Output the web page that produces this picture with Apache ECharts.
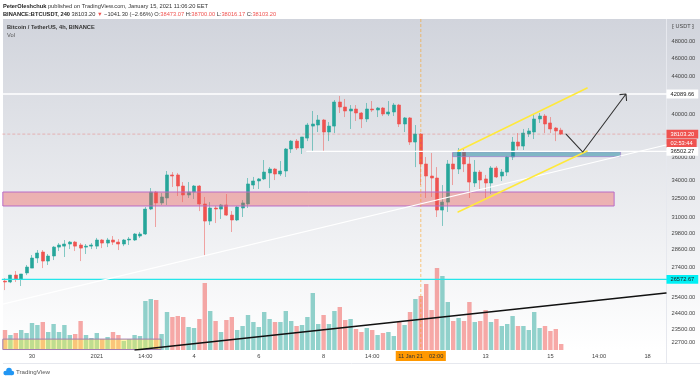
<!DOCTYPE html>
<html><head><meta charset="utf-8">
<style>html,body{margin:0;padding:0;background:#fff}#c{width:700px;height:380px}</style>
<script src="https://cdn.jsdelivr.net/npm/echarts@6/dist/echarts.min.js"></script>
</head><body><div id="c"></div>
<script>
const opens=[26460,26400,26860,26600,27000,27330,28020,28440,27810,28160,28790,28860,29010,29150,28940,28790,28860,28860,29300,29080,29300,29150,29010,29300,29300,29590,29740,31640,33000,32120,32520,34430,34430,33500,32760,33000,33500,32040,30710,31720,31640,31960,31170,30790,31720,32040,33580,33920,34090,34600,34940,34510,34770,36720,37450,36810,37730,38870,38970,39460,38300,38870,41260,40750,40350,40550,40150,39560,40550,40450,40650,40050,40250,40950,39070,39660,37360,38110,35380,34340,34170,31560,32190,35380,34940,36450,35380,33750,34680,34090,33750,35030,34340,34680,36000,37360,36990,38110,38300,39560,39850,39170,38680,38473.07];
const closes=[26400,26860,26600,26930,27400,28020,28370,27810,28160,28790,28940,29010,29150,28860,28720,28860,28940,29300,29080,29300,29150,29010,29300,29370,29740,29740,31640,33000,32120,32600,34430,34340,33500,32760,33000,33500,32040,30710,31720,31640,31960,31170,30790,31800,32120,33670,33920,34090,34680,34940,34510,34770,36720,37450,36810,37830,38970,39070,39460,38300,38870,41260,40750,40350,40550,40150,39560,40550,40450,40650,40050,40250,40950,39070,39660,37360,38110,35380,34340,34170,31560,32190,35380,34940,36450,35380,33830,34680,34000,33750,35030,34260,34680,36000,37360,36990,38200,38400,39560,39850,39070,38590,38400,38103.2];
const lows=[25880,26330,26400,26140,26860,27330,27670,27330,27540,27880,28510,28090,28650,28510,27810,28300,28650,28650,28720,28790,28940,28580,28860,28940,29230,29450,29670,31560,30260,31960,31960,33420,32680,32190,32520,32440,31480,28160,30410,30560,30870,31100,29890,30710,31020,31720,33250,33250,34000,33330,34000,34340,34260,36360,36630,36270,37450,36540,38300,36540,37450,38200,40150,39750,38590,39360,38680,39260,40250,39750,39850,39850,39850,38780,38300,37090,35110,33580,32520,32600,31020,30340,31410,33580,34510,34680,32520,33420,33250,32520,32840,34170,33920,34340,35730,36630,36630,37830,37640,39170,38200,38200,37450,38016.17];
const highs=[26660,26860,27130,26930,27540,28230,28580,28580,28300,28860,29080,29300,29230,29230,29080,29010,29080,29450,29370,29450,29590,29370,29370,29520,29810,29890,31800,33330,33090,32920,34770,34680,34600,33830,33830,33580,33580,32600,32190,31880,32040,32840,31480,31880,32350,34170,34260,34170,35730,35110,35030,35640,36810,37550,37640,37830,39170,40350,39950,39560,39260,41460,41880,41570,40950,40950,40250,41160,41360,40750,40750,41360,41160,41060,39750,39750,38970,38200,36000,36360,35110,33580,35730,36360,36810,36810,36000,35730,34850,34430,35200,35200,34940,36090,37830,38200,38590,38680,40050,40150,40050,39750,38780,38700];
const volumes=[2000,1500,1700,2000,1700,2700,2500,2800,1800,2600,1800,2500,1500,1600,2900,1500,1200,1700,1100,1300,1800,1500,900,1100,1500,1400,4900,5100,5000,1600,3800,3300,3400,3300,2300,2200,3100,6700,3900,2900,1800,3000,3300,2000,2400,3500,2800,2300,3800,3100,2800,2800,3900,2900,2400,2500,3300,5700,2600,3500,2600,3900,4300,3000,3100,2100,1800,2200,2000,1500,1700,1800,1400,2800,2500,3800,5100,5400,6600,4000,8200,7400,4800,2900,3200,2900,4800,2800,2900,4000,2800,3100,2400,2600,3400,2400,2400,2000,3800,2200,2400,1900,2100,600];
const tickBars=[5,17,26,35,47,59,68,77,89,101,110,119];
const tickTexts=['30','2021','14:00','4','6','8','14:00','11 Jan 21    02:00','13','15','14:00','18'];
const priceTicks=[48000,46000,44000,40000,36000,34000,32500,31000,29800,28600,27400,25400,24400,23500,22700];
const resistance=42089.66, support=36502.27, lowLevel=26572.67, lastPrice=38103.20, countdownAt=37230;
const trendWhite=[[-0.4,24990],[122.4,37085]];
const channelUpper=[[83.9,36537],[107.8,42720]];
const channelLower=[[83.9,31405],[107.8,36537]];
const trendBlack=[[24.1,22300],[122.4,25690]];
const projection=[[103.9,38110],[107,36446],[115,42090],[113.8,42020],[115,42090],[115.1,41410]];
const zoneMain=[-0.4,112.8,33003,31880];
const zoneBlue=[82.9,114,36470,36030];
const zoneVol=[-0.4,28.9,22915,22330];
const cursorBar=77;

const UP='#26a69a', DOWN='#ef5350', FONT='"Liberation Sans",Arial,sans-serif', FS=5.7;
const slots=123, XMIN=-0.5, XMAX=122.5, YMIN=22304, YMAX=50693;
const cats=Array.from({length:slots},(_,i)=>{const t=tickBars.indexOf(i);return t<0?'':tickTexts[t];});
const wick=opens.map((o,i)=>[o,closes[i],lows[i],highs[i]]);
const body=opens.map((o,i)=>[o,closes[i],Math.min(o,closes[i]),Math.max(o,closes[i])]);
const vols=volumes.map((v,i)=>({value:v,itemStyle:{color:closes[i]>=opens[i]?'rgba(38,166,154,.5)':'rgba(239,83,80,.5)'}}));
function seg(data,color,width,extra){return Object.assign({type:'line',xAxisIndex:1,yAxisIndex:0,data,symbol:'none',silent:true,animation:false,z:6,
  lineStyle:{color,width,cap:'round'}},extra||{});}
function zone(rect,fill,stroke,lw){return {type:'custom',xAxisIndex:1,yAxisIndex:0,z:5,silent:true,animation:false,clip:false,
  data:[rect],encode:{x:[0,1],y:[2,3]},
  renderItem(p,api){const a=api.coord([api.value(0),api.value(2)]),b=api.coord([api.value(1),api.value(3)]);
    return {type:'rect',shape:{x:a[0],y:a[1],width:b[0]-a[0],height:b[1]-a[1]},style:{fill,stroke,lineWidth:lw||1}};}};}
function tag(v,text,bg,col){return {yAxis:v,label:{formatter:text,color:col,backgroundColor:bg,padding:[1.4,4,1.4,4],distance:0,opacity:1},lineStyle:{color:'transparent'}};}
const ts=(size,weight,color,rich)=>({fontSize:size,fontFamily:FONT,fontWeight:weight,color,rich:rich||{}});
const option={
 animation:false,
 title:[
  {left:3,top:3,padding:0,textStyle:ts(FS,'normal','#333',{b:{fontWeight:'bold',fontSize:FS,fontFamily:FONT,color:'#222'}}),
    text:'{b|PeterOleshchuk} published on TradingView.com, January 15, 2021 11:06:20 EET'},
  {left:3,top:11,padding:0,textStyle:ts(FS,'normal','#333',{b:{fontWeight:'bold',fontSize:FS,fontFamily:FONT,color:'#222'},r:{fontSize:FS,fontFamily:FONT,color:'#ef5350'}}),
    text:'{b|BINANCE:BTCUSDT, 240} 38103.20 {r|▼} −1041.30 (−2.66%) O:{r|38473.07} H:{r|38700.00} L:{r|38016.17} C:{r|38103.20}'},
  {left:7,top:24,padding:0,textStyle:ts(5.7,'bold','#333'),text:'Bitcoin / TetherUS, 4h, BINANCE'},
  {left:7,top:32,padding:0,textStyle:ts(5.7,'normal','#555'),text:'Vol'},
  {left:16,top:369,padding:0,textStyle:ts(6.2,'normal','#555'),text:'TradingView'},
  {left:672,top:23,padding:0,textStyle:ts(5.5,'normal','#444'),text:'⁅ USDT ⁆'}
 ],
 graphic:[
  {type:'rect',z:-10,silent:true,shape:{x:3,y:19,width:697,height:331},
   style:{fill:{type:'linear',x:0,y:0,x2:0,y2:1,colorStops:[{offset:0,color:'#d1d4dc'},{offset:1,color:'#ffffff'}]}}},
  {type:'line',z:1,silent:true,shape:{x1:666.5,y1:19,x2:666.5,y2:363},style:{stroke:'#e6e8ee',lineWidth:1}},
  {type:'line',z:1,silent:true,shape:{x1:3,y1:363.5,x2:700,y2:363.5},style:{stroke:'#e6e8ee',lineWidth:1}},
  {type:'circle',z:1,silent:true,shape:{cx:9,cy:370.5,r:2.8},style:{fill:'#2196f3'}},
  {type:'circle',z:1,silent:true,shape:{cx:5.6,cy:373,r:2.2},style:{fill:'#2196f3'}},
  {type:'circle',z:1,silent:true,shape:{cx:12,cy:373,r:2.2},style:{fill:'#2196f3'}},
  {type:'rect',z:1,silent:true,shape:{x:5.5,y:372,width:6.5,height:3.2},style:{fill:'#2196f3'}}
 ],
 grid:{left:2.3,right:33.5,top:19,bottom:30,show:false},
 xAxis:[
  {type:'category',data:cats,boundaryGap:true,axisLine:{show:false},axisTick:{show:false},splitLine:{show:false},
   axisLabel:{interval:0,margin:1,fontSize:FS,fontFamily:FONT,color:'#444',hideOverlap:false,
    formatter:v=>v===''?'':(v.indexOf('Jan')>=0?'{h|'+v+'}':'{n|'+v+'}'),
    rich:{h:{backgroundColor:'#ff9800',color:'#333',fontSize:FS,fontFamily:FONT,padding:[2,2.5,2,2.5]},
          n:{color:'#444',fontSize:FS,fontFamily:FONT,padding:[2,2.5,2,2.5]}}}},
  {type:'value',show:false,min:XMIN,max:XMAX,splitLine:{show:false}}
 ],
 yAxis:[
  {type:'log',show:false,min:YMIN,max:YMAX,splitLine:{show:false}},
  {type:'value',show:false,min:0,max:33100,splitLine:{show:false}}
 ],
 series:[
  {type:'bar',xAxisIndex:0,yAxisIndex:1,data:vols,barWidth:4.4,silent:true,z:2,animation:false},
  {type:'candlestick',xAxisIndex:0,yAxisIndex:0,data:wick,barWidth:1,silent:true,z:3,animation:false,
   itemStyle:{color:'rgba(38,166,154,.55)',color0:'rgba(239,83,80,.5)',borderColor:'rgba(38,166,154,.55)',borderColor0:'rgba(239,83,80,.5)',borderWidth:1}},
  {type:'candlestick',xAxisIndex:0,yAxisIndex:0,data:body,barWidth:3.6,silent:true,z:4,animation:false,
   itemStyle:{color:UP,color0:DOWN,borderColor:UP,borderColor0:DOWN,borderWidth:0.6}},
  zone(zoneMain,'rgba(239,83,80,.38)','#b96cc8'),
  zone(zoneBlue,'rgba(30,135,160,.5)','rgba(166,124,207,.8)',0.8),
  zone(zoneVol,'rgba(255,235,59,.42)','#a07cb0'),
  seg([[cursorBar,YMAX],[cursorBar,YMIN]],'rgba(255,152,0,.5)',1,{lineStyle:{color:'rgba(255,152,0,.5)',width:1,type:[3,2]}}),
  seg([[XMIN,lastPrice],[XMAX,lastPrice]],'rgba(239,83,80,.35)',1,{lineStyle:{color:'rgba(239,83,80,.35)',width:1,type:[3,2]}}),
  seg([[XMIN,resistance],[XMAX,resistance]],'#ffffff',1.3),
  seg([[55.9,support],[XMAX,support]],'#ffffff',1.3),
  seg([[XMIN,lowLevel],[XMAX,lowLevel]],'#26e6ea',1.2),
  seg(trendWhite,'#ffffff',1.2),
  seg(channelUpper,'#ffe93b',1.5),
  seg(channelLower,'#ffe93b',1.5),
  seg(trendBlack,'#111111',1.5),
  seg(projection,'#333333',1.1),
  {type:'line',xAxisIndex:1,yAxisIndex:0,data:[[XMIN,lastPrice]],symbol:'none',z:10,silent:true,animation:false,
   markLine:{silent:true,symbol:'none',animation:false,precision:2,
    lineStyle:{color:'transparent'},
    label:{position:'end',distance:5,fontSize:FS,fontFamily:FONT,color:'#444',opacity:1},
    data:priceTicks.map(v=>({yAxis:v,label:{formatter:v.toFixed(2)}}))}},
  {type:'line',xAxisIndex:1,yAxisIndex:0,data:[[XMIN,lastPrice]],symbol:'none',z:11,silent:true,animation:false,
   markLine:{silent:true,symbol:'none',animation:false,precision:2,
    lineStyle:{color:'transparent'},
    label:{position:'end',distance:0,fontSize:FS,fontFamily:FONT,opacity:1},
    data:[tag(resistance,resistance.toFixed(2),'#ffffff','#222'),
          tag(countdownAt,'02:53:44','#ef5350','#fff'),
          tag(lastPrice,lastPrice.toFixed(2),'#ef5350','#fff'),
          tag(support,support.toFixed(2),'#ffffff','#222'),
          tag(lowLevel,lowLevel.toFixed(2),'#00f0f5','#222')]}}
 ]
};
echarts.init(document.getElementById('c'),null,{renderer:'canvas'}).setOption(option);
</script></body></html>
